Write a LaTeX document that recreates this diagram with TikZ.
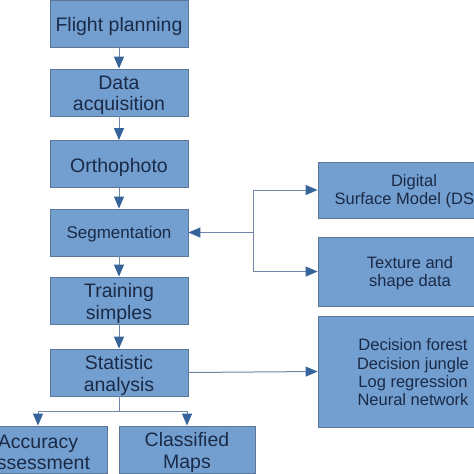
\documentclass[tikz,border=0pt]{standalone}
\usepackage{fontspec}
\setmainfont{Liberation Sans}
\usetikzlibrary{arrows.meta}
\definecolor{boxfill}{HTML}{729FCF}
\definecolor{boxline}{HTML}{5B7696}
\definecolor{txt}{HTML}{1B2A47}
\definecolor{conn}{HTML}{6F86A4}
\definecolor{tipc}{HTML}{35649B}
\tikzset{
  lbox/.style={draw=boxline, line width=0.8pt, fill=boxfill, inner sep=0pt,
    minimum width=138pt, minimum height=47pt},
  rbox/.style={draw=boxline, line width=0.8pt, fill=boxfill, inner sep=0pt,
    minimum width=192pt},
  ltext/.style={text=txt, inner sep=0pt, align=center, font=\fontsize{19.5}{21.5}\selectfont},
  stext/.style={ltext, font=\fontsize{17}{19}\selectfont},
  rtext/.style={text=txt, inner sep=0pt, align=center, font=\fontsize{16.5}{18.3}\selectfont},
  conn/.style={draw=conn, line width=1pt, -{Triangle[length=12pt,width=10pt,color=tipc]}},
  plain/.style={draw=conn, line width=1pt}
}
\begin{document}
\begin{tikzpicture}[x=1pt,y=-1pt]
\useasboundingbox (0,0) rectangle (474,474);
\clip (0,0) rectangle (474,474);
\fill[white] (0,0) rectangle (474,474);
% boxes
\node[lbox] (fp) at (119,23.5) {};
\node[lbox] (da) at (119,92.5) {};
\node[lbox] (or) at (119,164) {};
\node[lbox] (sg) at (119,232.5) {};
\node[lbox] (ts) at (119,300.5) {};
\node[lbox] (sa) at (119,372.5) {};
\node[lbox] (aa) at (38,449.5) {};
\node[lbox, minimum width=136pt] (cm) at (187,449.5) {};
\node[rbox, minimum height=56pt] (dsm) at (414,190) {};
\node[rbox, minimum height=69pt] (tex) at (414,271.5) {};
\node[rbox, minimum height=111pt] (dec) at (414,371.5) {};
% texts
\node[ltext] (fpt) at ([yshift=-3pt]fp.center) {Flight planning};
\node[ltext] (dat) at ([yshift=-3pt]da.center) {Data\\acquisition};
\node[ltext] (ort) at ([yshift=-3pt]or.center) {Orthophoto};
\node[stext] (sgt) at ([yshift=-2pt]sg.center) {Segmentation};
\node[ltext] (tst) at ([yshift=-3pt]ts.center) {Training\\simples};
\node[ltext] (sat) at ([yshift=-3pt]sa.center) {Statistic\\analysis};
\node[ltext] (aat) at ([yshift=-3pt]aa.center) {Accuracy\\assessment};
\node[ltext] (cmt) at ([yshift=-3pt]cm.center) {Classified\\Maps};
\node[rtext] (dsmt) at ([yshift=-1.5pt]dsm.center) {Digital\\Surface Model (DSM)};
\node[rtext] (text) at ([xshift=-4pt,yshift=-1.5pt]tex.center) {Texture and\\shape data};
\node[rtext] (dect) at ([xshift=-1pt,yshift=-1pt]dec.center) {Decision forest\\Decision jungle\\Log regression\\Neural network};
% connectors
\coordinate (j1) at (253,232.5);
\coordinate (j2) at (119,411);
\draw[conn] (fp) -- (da);
\draw[conn] (da) -- (or);
\draw[conn] (or) -- (sg);
\draw[conn] (sg) -- (ts);
\draw[conn] (ts) -- (sa);
\draw[conn] (j1) -- (sg);
\draw[conn] (j1) |- (dsm);
\draw[conn] (j1) |- (tex);
\draw[conn] (sa.east) -- (dec.west);
\draw[plain] (sa.south) -- (j2);
\draw[conn] (j2) -| (aa.north);
\draw[conn] (j2) -| (cm.north);
\end{tikzpicture}
\end{document}
